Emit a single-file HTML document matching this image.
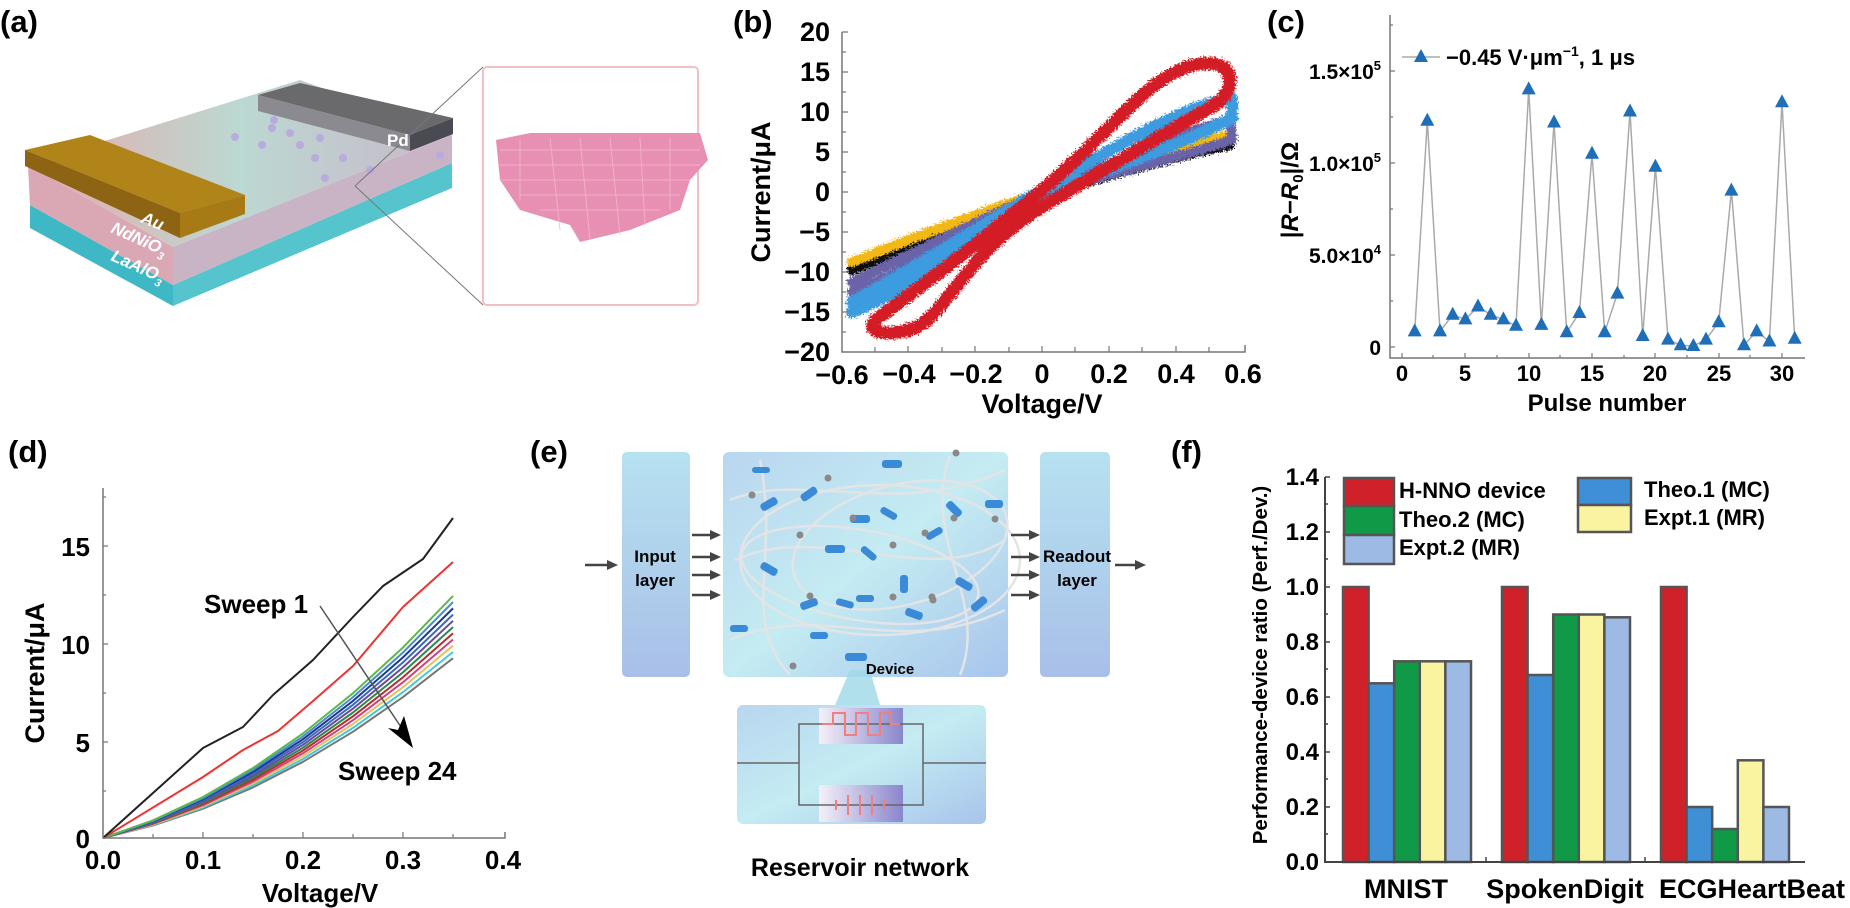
<!DOCTYPE html>
<html><head><meta charset="utf-8"><style>
html,body{margin:0;padding:0;background:#fff}
svg{display:block;font-family:"Liberation Sans",sans-serif;font-weight:bold}
</style></head><body>
<svg width="1850" height="908" viewBox="0 0 1850 908" xmlns="http://www.w3.org/2000/svg">
<defs>
<filter id="rough" x="-10%" y="-10%" width="120%" height="120%">
<feTurbulence type="fractalNoise" baseFrequency="0.6" numOctaves="2" seed="3"/>
<feDisplacementMap in="SourceGraphic" scale="9" xChannelSelector="R" yChannelSelector="G"/>
</filter>
<linearGradient id="boxg" x1="0" y1="0" x2="0" y2="1"><stop offset="0" stop-color="#b6e2f0"/><stop offset="1" stop-color="#a9bfe8"/></linearGradient>
<linearGradient id="netg" x1="0" y1="0" x2="1" y2="1"><stop offset="0" stop-color="#b9d6f0"/><stop offset="0.5" stop-color="#c4ecf2"/><stop offset="1" stop-color="#a8c4ec"/></linearGradient>
<linearGradient id="compg" x1="0" y1="0" x2="1" y2="0"><stop offset="0" stop-color="#f4f0f8"/><stop offset="1" stop-color="#8a86cc"/></linearGradient>
<linearGradient id="topg" x1="0" y1="0" x2="1" y2="0"><stop offset="0" stop-color="#e6aaa8"/><stop offset="0.5" stop-color="#bcd8d2"/><stop offset="1" stop-color="#c8b8c8"/></linearGradient>
<path id="tri" d="M0,-8 L7,5 L-7,5 Z" fill="#1f6fb8"/>
</defs>

<g font-size="31">
<text x="0" y="32">(a)</text>
<text x="733" y="32">(b)</text>
<text x="1267" y="32">(c)</text>
<text x="8" y="462">(d)</text>
<text x="530" y="462">(e)</text>
<text x="1171" y="462">(f)</text>
</g>

<!-- ===== Panel a ===== -->
<g>
<polygon points="30,205 173,285 173,306 30,228" fill="#3eb8c4"/>
<polygon points="173,285 452,163 452,188 173,306" fill="#55c4cc"/>
<polygon points="28,165 173,247 173,285 30,205" fill="#d9a8b4"/>
<polygon points="173,247 452,135 452,163 173,285" fill="#c9b4c6"/>
<polygon points="28,165 173,247 452,135 300,80" fill="url(#topg)"/>
<polygon points="25,150 90,135 245,195 180,213" fill="#b08418"/>
<polygon points="25,150 180,213 180,238 25,166" fill="#8c6414"/>
<polygon points="180,213 245,195 245,214 180,238" fill="#a87a16"/>
<polygon points="258,95 300,83 453,118 410,135" fill="#6a6a6c"/>
<polygon points="258,95 410,135 410,151 258,111" fill="#8a8a90"/>
<polygon points="410,135 453,118 453,134 410,151" fill="#4a4a52"/>
<g fill="#b8a8e0" opacity="0.9">
<circle cx="272" cy="128" r="4"/><circle cx="290" cy="133" r="4"/><circle cx="262" cy="145" r="4"/><circle cx="300" cy="145" r="4"/><circle cx="235" cy="137" r="4"/><circle cx="320" cy="138" r="4"/><circle cx="315" cy="158" r="4"/><circle cx="343" cy="158" r="4"/><circle cx="325" cy="178" r="4"/><circle cx="370" cy="170" r="4"/><circle cx="440" cy="155" r="4"/><circle cx="274" cy="120" r="4"/>
</g>
<line x1="355" y1="186" x2="483" y2="67" stroke="#777" stroke-width="1"/>
<line x1="355" y1="186" x2="483" y2="305" stroke="#777" stroke-width="1"/>
<g fill="#fff" font-style="italic" font-size="17">
<text x="140" y="222" transform="rotate(22 140 222)">Au</text>
<text x="110" y="232" transform="rotate(24 110 232)">NdNiO<tspan font-size="11" dy="5">3</tspan></text>
<text x="110" y="260" transform="rotate(24 110 260)">LaAlO<tspan font-size="11" dy="5">3</tspan></text>
<text x="387" y="146" font-style="normal">Pd</text>
</g>
<rect x="483" y="67" width="215" height="238" rx="4" fill="#fff" stroke="#f0c0c4" stroke-width="2"/>
<polygon points="496,140 530,133 700,133 708,160 690,180 680,210 630,230 580,242 570,225 520,210 500,180" fill="#e890b4"/>
<g stroke="#f4b6cc" stroke-width="1" fill="none" opacity="0.8">
<path d="M500,150 L700,150 M500,165 L700,165 M500,180 L690,180 M520,195 L680,195 M540,210 L660,210 M520,140 L520,200 M550,138 L560,230 M580,138 L590,240 M610,138 L620,235 M640,138 L645,225 M670,138 L670,210"/>
</g>
</g>

<!-- ===== Panel b ===== -->
<g>
<g filter="url(#rough)" fill="none" stroke-linecap="round" stroke-linejoin="round">
<path d="M852,270 C 920,240 1000,210 1042,196 S 1180,155 1230,145" stroke="#111" stroke-width="10"/>
<path d="M852,262 C 920,235 1000,205 1042,193 S 1180,145 1230,135" stroke="#f2b817" stroke-width="10"/>
<path d="M852,282 C 930,245 1000,210 1042,193 S 1170,135 1230,120 L1232,140 C 1170,160 1100,175 1042,195 S 930,262 852,292" stroke="#6a64a8" stroke-width="10"/>
<path d="M852,302 C 920,265 990,220 1042,190 S 1170,110 1232,98 L1232,118 C 1170,150 1100,170 1042,198 S 930,280 852,312" stroke="#3d9be0" stroke-width="12"/>
<path d="M878,318 C 905,298 965,255 1042,190 S 1150,72 1200,64 C 1240,58 1236,95 1210,108 C 1180,124 1120,160 1042,207 S 945,318 912,329 C 882,338 862,330 878,318 Z" stroke="#d41f26" stroke-width="13"/>
</g>
<g stroke="#777" stroke-width="1.5" fill="none">
<path d="M842,32 L842,352 L1245,352 L1245,345"/>
</g>
<g stroke="#777" stroke-width="1.2">
<path d="M842,32h6M842,72h6M842,112h6M842,152h6M842,192h6M842,232h6M842,272h6M842,312h6M842,52h4M842,92h4M842,132h4M842,172h4M842,212h4M842,252h4M842,292h4M842,332h4"/>
<path d="M875,352v-5M908,352v-6M942,352v-5M975,352v-6M1009,352v-5M1042,352v-6M1075,352v-5M1109,352v-6M1142,352v-5M1176,352v-6M1209,352v-5"/>
</g>
<g font-size="27" text-anchor="end">
<text x="830" y="41">20</text><text x="830" y="81">15</text><text x="830" y="121">10</text><text x="830" y="161">5</text><text x="830" y="201">0</text><text x="830" y="241">−5</text><text x="830" y="281">−10</text><text x="830" y="321">−15</text><text x="830" y="361">−20</text>
</g>
<g font-size="27" text-anchor="middle">
<text x="842" y="384">−0.6</text><text x="909" y="383">−0.4</text><text x="976" y="383">−0.2</text><text x="1042" y="383">0</text><text x="1109" y="383">0.2</text><text x="1176" y="383">0.4</text><text x="1243" y="383">0.6</text>
<text x="1042" y="413">Voltage/V</text>
<text transform="translate(770 192) rotate(-90)">Current/μA</text>
</g>
</g>

<!-- ===== Panel c ===== -->
<g>
<g stroke="#777" stroke-width="1.5" fill="none"><path d="M1390,15 L1390,358 L1805,358"/></g>
<g stroke="#777" stroke-width="1.2">
<path d="M1390,71h5M1390,163h5M1390,255h5M1390,347h5M1390,117h3M1390,209h3M1390,301h3M1390,25h3"/>
<path d="M1402,358v-5M1465,358v-5M1529,358v-5M1592,358v-5M1655,358v-5M1719,358v-5M1782,358v-5M1433,358v-3M1497,358v-3M1560,358v-3M1624,358v-3M1687,358v-3M1750,358v-3"/>
</g>
<polyline fill="none" stroke="#aaa" stroke-width="1.5" points="1414.7,331.4 1427.3,120.7 1440,331.4 1452.7,314.8 1465.4,319.4 1478,306.5 1490.7,314.8 1503.4,319.4 1516,325.8 1528.7,89.4 1541.4,324.9 1554,122.5 1566.7,332.3 1579.4,313 1592,153.8 1604.7,332.3 1617.4,293.6 1630,111.5 1642.7,336 1655.4,166.7 1668,339.6 1680.7,345.2 1693.4,346 1706,339.6 1718.7,322.2 1731.4,190.6 1744,345.2 1756.7,331.4 1769.4,341.5 1782,102.3 1794.7,338.7"/>
<g>
<use href="#tri" x="1414.7" y="331.4"/><use href="#tri" x="1427.3" y="120.7"/><use href="#tri" x="1440" y="331.4"/><use href="#tri" x="1452.7" y="314.8"/><use href="#tri" x="1465.4" y="319.4"/><use href="#tri" x="1478" y="306.5"/><use href="#tri" x="1490.7" y="314.8"/><use href="#tri" x="1503.4" y="319.4"/><use href="#tri" x="1516" y="325.8"/><use href="#tri" x="1528.7" y="89.4"/><use href="#tri" x="1541.4" y="324.9"/><use href="#tri" x="1554" y="122.5"/><use href="#tri" x="1566.7" y="332.3"/><use href="#tri" x="1579.4" y="313"/><use href="#tri" x="1592" y="153.8"/><use href="#tri" x="1604.7" y="332.3"/><use href="#tri" x="1617.4" y="293.6"/><use href="#tri" x="1630" y="111.5"/><use href="#tri" x="1642.7" y="336"/><use href="#tri" x="1655.4" y="166.7"/><use href="#tri" x="1668" y="339.6"/><use href="#tri" x="1680.7" y="345.2"/><use href="#tri" x="1693.4" y="346"/><use href="#tri" x="1706" y="339.6"/><use href="#tri" x="1718.7" y="322.2"/><use href="#tri" x="1731.4" y="190.6"/><use href="#tri" x="1744" y="345.2"/><use href="#tri" x="1756.7" y="331.4"/><use href="#tri" x="1769.4" y="341.5"/><use href="#tri" x="1782" y="102.3"/><use href="#tri" x="1794.7" y="338.7"/>
</g>
<line x1="1402" y1="57" x2="1440" y2="57" stroke="#aaa" stroke-width="1.5"/>
<use href="#tri" x="1421" y="57"/>
<text x="1446" y="65" font-size="22">−0.45 V·μm<tspan font-size="14" dy="-9">−1</tspan><tspan dy="9">, 1 μs</tspan></text>
<g font-size="21" text-anchor="end">
<text x="1381" y="79">1.5×10<tspan font-size="13" dy="-9">5</tspan></text>
<text x="1381" y="171">1.0×10<tspan font-size="13" dy="-9">5</tspan></text>
<text x="1381" y="263">5.0×10<tspan font-size="13" dy="-9">4</tspan></text>
<text x="1381" y="355">0</text>
</g>
<g font-size="22" text-anchor="middle">
<text x="1402" y="381">0</text><text x="1465" y="381">5</text><text x="1529" y="381">10</text><text x="1592" y="381">15</text><text x="1655" y="381">20</text><text x="1719" y="381">25</text><text x="1782" y="381">30</text>
<text x="1607" y="411" font-size="24">Pulse number</text>
<text transform="translate(1298 190) rotate(-90)" font-size="24">|<tspan font-style="italic">R</tspan>−<tspan font-style="italic">R</tspan><tspan font-size="15" dy="5">0</tspan><tspan dy="-5">|/Ω</tspan></text>
</g>
</g>

<!-- ===== Panel d ===== -->
<g>
<g fill="none" stroke-width="2" stroke-linejoin="round">
<polyline stroke="#777" points="103,838 153,825.5 203,808.7 253,787.4 303,761.8 353,731.7 403,697.1 453,658.2"/>
<polyline stroke="#44c8d8" points="103,838 153,825 203,807.5 253,785.5 303,759 353,727.9 403,692.1 453,652"/>
<polyline stroke="#e8c060" points="103,838 153,824.5 203,806.4 253,783.5 303,756.1 353,724 403,687.2 453,645.7"/>
<polyline stroke="#d04080" points="103,838 153,823.9 203,805.2 253,781.6 303,753.3 353,720.2 403,682.2 453,639.5"/>
<polyline stroke="#b03030" points="103,838 153,823.4 203,804 253,779.6 303,750.5 353,716.3 403,677.3 453,633.3"/>
<polyline stroke="#2a8a4a" points="103,838 153,822.9 203,802.9 253,777.7 303,747.7 353,712.5 403,672.3 453,627.1"/>
<polyline stroke="#6a4aa0" points="103,838 153,822.4 203,801.7 253,775.8 303,744.8 353,708.6 403,667.4 453,620.8"/>
<polyline stroke="#3a6ac0" points="103,838 153,821.9 203,800.5 253,773.8 303,742 353,704.8 403,662.4 453,614.6"/>
<polyline stroke="#1a3a90" points="103,838 153,821.3 203,799.3 253,771.9 303,739.2 353,700.9 403,657.4 453,608.4"/>
<polyline stroke="#4a8ad0" points="103,838 153,820.8 203,798.2 253,769.9 303,736.4 353,697.1 403,652.5 453,602.1"/>
<polyline stroke="#5cb84c" points="103,838 153,820.3 203,797 253,768 303,733.5 353,693.2 403,647.5 453,595.9"/>
<polyline stroke="#ee3333" points="103,838 203,777 243,750 278,731 313,701 353,666 403,607 453,562"/>
<polyline stroke="#222" points="103,838 153,793 203,748 243,727 273,695 313,660 353,617 383,586 423,559 453,518"/>
</g>
<g stroke="#777" stroke-width="1.5" fill="none"><path d="M103,488 L103,838 L505,838 L505,832"/></g>
<g stroke="#777" stroke-width="1.2">
<path d="M103,546h5M103,644h5M103,742h5M103,497h3M103,595h3M103,693h3M103,791h3"/>
<path d="M153,838v-4M203,838v-6M253,838v-4M303,838v-6M353,838v-4M403,838v-6M453,838v-4"/>
</g>
<line x1="320" y1="606" x2="405" y2="733" stroke="#555" stroke-width="1.5"/>
<polygon points="413,748 388,728 398,730 404,716" fill="#000"/>
<g font-size="26" text-anchor="end">
<text x="90" y="556">15</text><text x="90" y="654">10</text><text x="90" y="752">5</text><text x="90" y="848">0</text>
</g>
<g font-size="26" text-anchor="middle">
<text x="103" y="869">0.0</text><text x="203" y="869">0.1</text><text x="303" y="869">0.2</text><text x="403" y="869">0.3</text><text x="503" y="869">0.4</text>
<text x="320" y="902">Voltage/V</text>
<text transform="translate(44 673) rotate(-90)" font-size="27">Current/μA</text>
</g>
<text x="204" y="613" font-size="26">Sweep 1</text>
<text x="338" y="780" font-size="26">Sweep 24</text>
</g>

<!-- ===== Panel e ===== -->
<g>
<rect x="622" y="452" width="68" height="225" rx="5" fill="url(#boxg)"/>
<rect x="1040" y="452" width="70" height="225" rx="5" fill="url(#boxg)"/>
<rect x="723" y="452" width="285" height="225" rx="6" fill="url(#netg)"/>
<g fill="none" stroke="#e2e4e6" stroke-width="2.5">
<ellipse cx="880" cy="560" rx="140" ry="75"/>
<ellipse cx="900" cy="545" rx="110" ry="60" transform="rotate(-15 900 545)"/>
<ellipse cx="860" cy="575" rx="120" ry="45" transform="rotate(10 860 575)"/>
<path d="M730,500 C800,470 900,520 1005,470 M730,640 C820,600 900,660 1005,610 M760,460 C780,560 740,620 790,675 M950,455 C920,540 990,600 960,675 M735,560 C820,520 930,590 1005,540"/>
</g>
<g fill="#3a8ad8">
<rect x="752" y="467" width="18" height="6" rx="3"/><rect x="882" y="460" width="20" height="8" rx="3"/><rect x="760" y="500" width="18" height="8" rx="3" transform="rotate(-30 769 504)"/><rect x="800" y="490" width="18" height="8" rx="3" transform="rotate(-35 809 494)"/><rect x="850" y="515" width="20" height="8" rx="3"/><rect x="880" y="510" width="18" height="7" rx="3" transform="rotate(30 889 513)"/><rect x="825" y="545" width="20" height="8" rx="3"/><rect x="860" y="550" width="18" height="7" rx="3" transform="rotate(40 869 553)"/><rect x="760" y="565" width="18" height="8" rx="3" transform="rotate(30 769 569)"/><rect x="800" y="600" width="18" height="8" rx="3" transform="rotate(-20 809 604)"/><rect x="836" y="600" width="18" height="7" rx="3" transform="rotate(15 845 603)"/><rect x="856" y="595" width="18" height="7" rx="3"/><rect x="730" y="625" width="18" height="7" rx="3"/><rect x="810" y="632" width="18" height="7" rx="3"/><rect x="900" y="575" width="8" height="18" rx="3"/><rect x="905" y="610" width="18" height="8" rx="3" transform="rotate(20 914 614)"/><rect x="925" y="530" width="18" height="7" rx="3" transform="rotate(-30 934 533)"/><rect x="945" y="505" width="18" height="8" rx="3" transform="rotate(45 954 509)"/><rect x="970" y="600" width="18" height="8" rx="3" transform="rotate(-40 979 604)"/><rect x="985" y="500" width="18" height="8" rx="3"/><rect x="955" y="580" width="18" height="8" rx="3" transform="rotate(30 964 584)"/><rect x="845" y="653" width="22" height="8" rx="3"/>
</g>
<g fill="#8a8888">
<circle cx="828" cy="478" r="3.5"/><circle cx="752" cy="495" r="3.5"/><circle cx="800" cy="535" r="3.5"/><circle cx="853" cy="518" r="3.5"/><circle cx="925" cy="533" r="3.5"/><circle cx="893" cy="545" r="3.5"/><circle cx="810" cy="596" r="3.5"/><circle cx="893" cy="597" r="3.5"/><circle cx="932" cy="597" r="3.5"/><circle cx="954" cy="518" r="3.5"/><circle cx="995" cy="519" r="3.5"/><circle cx="793" cy="666" r="3.5"/><circle cx="956" cy="453" r="3.5"/><circle cx="933" cy="600" r="3.5"/>
</g>
<polygon points="850,670 870,670 880,705 835,705" fill="#9ed8e8" opacity="0.8"/>
<text x="890" y="674" font-size="15" text-anchor="middle">Device</text>
<rect x="737" y="705" width="249" height="119" rx="6" fill="url(#netg)"/>
<rect x="819" y="708" width="84" height="36" fill="url(#compg)"/>
<rect x="819" y="785" width="84" height="37" fill="url(#compg)"/>
<g fill="none" stroke="#666" stroke-width="1.5">
<path d="M737,763 H799 V724 H923 V805 H799 V763 M923,763 H986"/>
</g>
<path d="M822,724 H833 V713 H845 V735 H856 V713 H868 V735 H880 V713 H891 V724 H900" fill="none" stroke="#f08080" stroke-width="2"/>
<path d="M848,795 V815 M860,795 V815 M872,795 V815 M836,800 V810 M884,800 V810" stroke="#f08080" stroke-width="2"/>
<g stroke="#444" stroke-width="2.5" fill="#444">
<line x1="585" y1="565" x2="608" y2="565"/><polygon points="618,565 607,560 607,570" stroke="none"/>
<line x1="692" y1="535" x2="712" y2="535"/><polygon points="721,535 710,530 710,540" stroke="none"/>
<line x1="692" y1="557" x2="712" y2="557"/><polygon points="721,557 710,552 710,562" stroke="none"/>
<line x1="692" y1="575" x2="712" y2="575"/><polygon points="721,575 710,570 710,580" stroke="none"/>
<line x1="692" y1="595" x2="712" y2="595"/><polygon points="721,595 710,590 710,600" stroke="none"/>
<line x1="1011" y1="535" x2="1031" y2="535"/><polygon points="1040,535 1029,530 1029,540" stroke="none"/>
<line x1="1011" y1="557" x2="1031" y2="557"/><polygon points="1040,557 1029,552 1029,562" stroke="none"/>
<line x1="1011" y1="575" x2="1031" y2="575"/><polygon points="1040,575 1029,570 1029,580" stroke="none"/>
<line x1="1011" y1="595" x2="1031" y2="595"/><polygon points="1040,595 1029,590 1029,600" stroke="none"/>
<line x1="1115" y1="565" x2="1137" y2="565"/><polygon points="1146,565 1135,560 1135,570" stroke="none"/>
</g>
<g font-size="17" text-anchor="middle">
<text x="655" y="562">Input</text><text x="655" y="586">layer</text>
<text x="1077" y="562">Readout</text><text x="1077" y="586">layer</text>
</g>
<text x="860" y="876" font-size="25" text-anchor="middle">Reservoir network</text>
</g>

<!-- ===== Panel f ===== -->
<g>
<g stroke="#555" stroke-width="2.5">
<rect x="1343" y="587" width="25.6" height="275" fill="#d0202a"/>
<rect x="1368.6" y="683.3" width="25.6" height="178.7" fill="#3f8fd6"/>
<rect x="1394.2" y="661.3" width="25.6" height="200.7" fill="#109a48"/>
<rect x="1419.8" y="661.3" width="25.6" height="200.7" fill="#faf3a0"/>
<rect x="1445.4" y="661.3" width="25.6" height="200.7" fill="#9dbae4"/>
<rect x="1502" y="587" width="25.6" height="275" fill="#d0202a"/>
<rect x="1527.6" y="675" width="25.6" height="187" fill="#3f8fd6"/>
<rect x="1553.2" y="614.5" width="25.6" height="247.5" fill="#109a48"/>
<rect x="1578.8" y="614.5" width="25.6" height="247.5" fill="#faf3a0"/>
<rect x="1604.4" y="617.3" width="25.6" height="244.7" fill="#9dbae4"/>
<rect x="1661" y="587" width="25.6" height="275" fill="#d0202a"/>
<rect x="1686.6" y="807" width="25.6" height="55" fill="#3f8fd6"/>
<rect x="1712.2" y="829" width="25.6" height="33" fill="#109a48"/>
<rect x="1737.8" y="760.3" width="25.6" height="101.7" fill="#faf3a0"/>
<rect x="1763.4" y="807" width="25.6" height="55" fill="#9dbae4"/>
</g>
<g stroke="#555" stroke-width="2.5">
<rect x="1344" y="478" width="50" height="28" fill="#d0202a"/>
<rect x="1344" y="506" width="50" height="29" fill="#109a48"/>
<rect x="1344" y="535" width="50" height="29" fill="#9dbae4"/>
<rect x="1578" y="478" width="53" height="27" fill="#3f8fd6"/>
<rect x="1578" y="505" width="53" height="27" fill="#faf3a0"/>
</g>
<g font-size="22">
<text x="1399" y="498">H-NNO device</text>
<text x="1399" y="527">Theo.2 (MC)</text>
<text x="1399" y="555">Expt.2 (MR)</text>
<text x="1644" y="497">Theo.1 (MC)</text>
<text x="1644" y="525">Expt.1 (MR)</text>
</g>
<g stroke="#444" stroke-width="2" fill="none"><path d="M1325,477 L1325,862 L1805,862"/></g>
<g stroke="#444" stroke-width="1.5">
<path d="M1325,477h5M1325,532h5M1325,587h5M1325,642h5M1325,697h5M1325,752h5M1325,807h5M1325,504h3M1325,559h3M1325,614h3M1325,669h3M1325,724h3M1325,779h3M1325,834h3M1486,862v-5M1645,862v-5"/>
</g>
<g font-size="24" text-anchor="end">
<text x="1319" y="485">1.4</text><text x="1319" y="540">1.2</text><text x="1319" y="595">1.0</text><text x="1319" y="650">0.8</text><text x="1319" y="705">0.6</text><text x="1319" y="760">0.4</text><text x="1319" y="815">0.2</text><text x="1319" y="870">0.0</text>
</g>
<g font-size="27" text-anchor="middle">
<text x="1406" y="898">MNIST</text><text x="1565" y="898">SpokenDigit</text><text x="1752" y="898">ECGHeartBeat</text>
</g>
<text transform="translate(1267 665) rotate(-90)" font-size="20.5" text-anchor="middle">Performance-device ratio (Perf./Dev.)</text>
</g>
</svg>
</body></html>
